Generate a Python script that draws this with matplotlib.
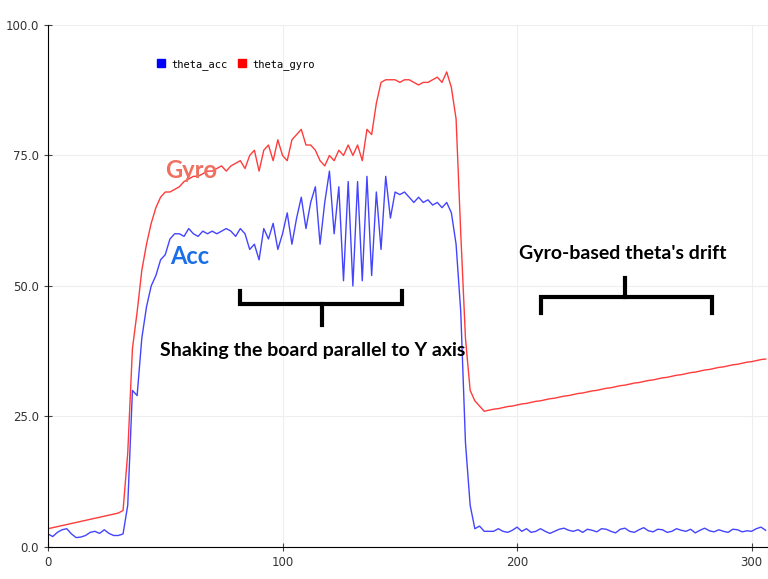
import numpy as np
import matplotlib.pyplot as plt
from matplotlib.lines import Line2D

# samples every 2 units of x
theta_acc = [2.5, 2.0, 2.8, 3.3, 3.5, 2.5, 1.8, 1.9, 2.2, 2.8, 3.0, 2.6, 3.3, 2.6, 2.2, 2.2,
             2.5, 8, 30, 29, 40, 46, 50, 52, 55, 56, 59, 60, 60, 59.5, 61, 60, 59.5, 60.5,
             60, 60.5, 60, 60.5, 61, 60.5, 59.5, 61, 60, 57, 58, 55, 61, 59, 62, 57, 60, 64,
             58, 63, 67, 61, 66, 69, 58, 66, 72, 60, 69, 51, 70, 50, 70, 51, 71, 52, 68, 57,
             71, 63, 68, 67.5, 68, 67, 66, 67, 66, 66.5, 65.5, 66, 65, 66, 64, 58, 45, 20, 8,
             3.5, 4, 3,
             3, 3, 3.5, 3, 2.8, 3.2, 3.8, 3, 3.5, 2.8, 3, 3.5, 3, 2.6, 3, 3.4, 3.6, 3.2, 3,
             3.3, 2.8, 3.4, 3.2, 2.9, 3.5, 3.4, 3, 2.7, 3.4, 3.6, 3, 2.8, 3.3, 3.7, 3.1, 2.9,
             3.4, 3.3, 2.8, 3, 3.5, 3.2, 3, 3.4, 2.7, 3.2, 3.6, 3.1, 2.9, 3.3, 3, 2.8, 3.4,
             3.3, 2.9, 3.1, 3, 3.5, 3.8, 3.2]
theta_gyro = [3.5, 3.7, 3.9, 4.1, 4.3, 4.5, 4.7, 4.9, 5.1, 5.3, 5.5, 5.7, 5.9, 6.1, 6.3, 6.5,
              7, 18, 38, 45, 53, 58, 62, 65, 67, 68, 68, 68.5, 69, 70, 70.5, 71, 71, 71.5, 72,
              72, 72.5, 73, 72, 73, 73.5, 74, 72.5, 75, 76, 72, 76, 77, 74, 78, 75, 74, 78, 79,
              80, 77, 77, 76, 74, 73, 75, 74, 76, 75, 77, 75, 77, 74, 80, 79, 85, 89, 89.5,
              89.5, 89.5, 89, 89.5, 89.5, 89, 88.5, 89, 89, 89.5, 90, 89, 91, 88, 82, 60, 40,
              30, 28, 27, 26,
              26.2, 26.4, 26.5, 26.7, 26.9, 27.0, 27.2, 27.4, 27.5, 27.7, 27.9, 28.0, 28.2,
              28.4, 28.5, 28.7, 28.9, 29.0, 29.2, 29.4, 29.5, 29.7, 29.9, 30.0, 30.2, 30.4,
              30.5, 30.7, 30.9, 31.0, 31.2, 31.4, 31.5, 31.7, 31.9, 32.0, 32.2, 32.4, 32.5,
              32.7, 32.9, 33.0, 33.2, 33.4, 33.5, 33.7, 33.9, 34.0, 34.2, 34.4, 34.5, 34.7,
              34.9, 35.0, 35.2, 35.4, 35.5, 35.7, 35.9, 36.0]

x_acc = np.arange(len(theta_acc)) * 2
x_gyro = np.arange(len(theta_gyro)) * 2

fig = plt.figure(figsize=(7.68, 5.79), dpi=100)
ax = fig.add_axes([0.0625, 0.0553, 0.9375, 0.9016])

ax.plot(x_acc, theta_acc, color='#4444ff', lw=1)
ax.plot(x_gyro, theta_gyro, color='#ff3b3b', lw=1)

ax.set_xlim(0, 307)
ax.set_ylim(0, 100)
ax.set_xticks([0, 100, 200, 300])
ax.set_yticks([0, 25, 50, 75, 100])
ax.set_yticklabels(['0.0', '25.0', '50.0', '75.0', '100.0'])
ax.grid(color='#eeeeee', lw=0.8)
ax.set_axisbelow(True)
for s in ['top', 'right']:
    ax.spines[s].set_visible(False)
ax.tick_params(labelsize=8.5, direction='inout', length=6, color='#444444', labelcolor='#333333')

handles = [Line2D([], [], marker='s', ls='', color='#0000ff', markersize=6),
           Line2D([], [], marker='s', ls='', color='#ff0000', markersize=6)]
ax.legend(handles, ['theta_acc', 'theta_gyro'], ncol=2, frameon=False,
          loc='center left', bbox_to_anchor=(0.13, 0.925), handletextpad=0.0,
          columnspacing=0.3, prop={'family': 'DejaVu Sans Mono', 'size': 7.5})

font = dict(family='Lato', weight='bold')
ax.text(50, 72.2, 'Gyro', color='#f07060', fontsize=17, va='center', **font)
ax.text(52, 55.7, 'Acc', color='#1a6ee8', fontsize=17, va='center', **font)
ax.text(113, 37.7, 'Shaking the board parallel to Y axis', color='black', fontsize=14,
        ha='center', va='center', **font)
ax.text(245, 56.3, "Gyro-based theta's drift", color='black', fontsize=14,
        ha='center', va='center', **font)

# brackets
ax.plot([82, 82, 151, 151], [49, 46.5, 46.5, 49], color='black', lw=3, solid_joinstyle='miter')
ax.plot([117, 117], [46.5, 42.5], color='black', lw=3)
ax.plot([210, 210, 283, 283], [44.8, 47.9, 47.9, 44.8], color='black', lw=3, solid_joinstyle='miter')
ax.plot([246, 246], [47.9, 51.5], color='black', lw=3)

fig.savefig('out.png', dpi=100)
